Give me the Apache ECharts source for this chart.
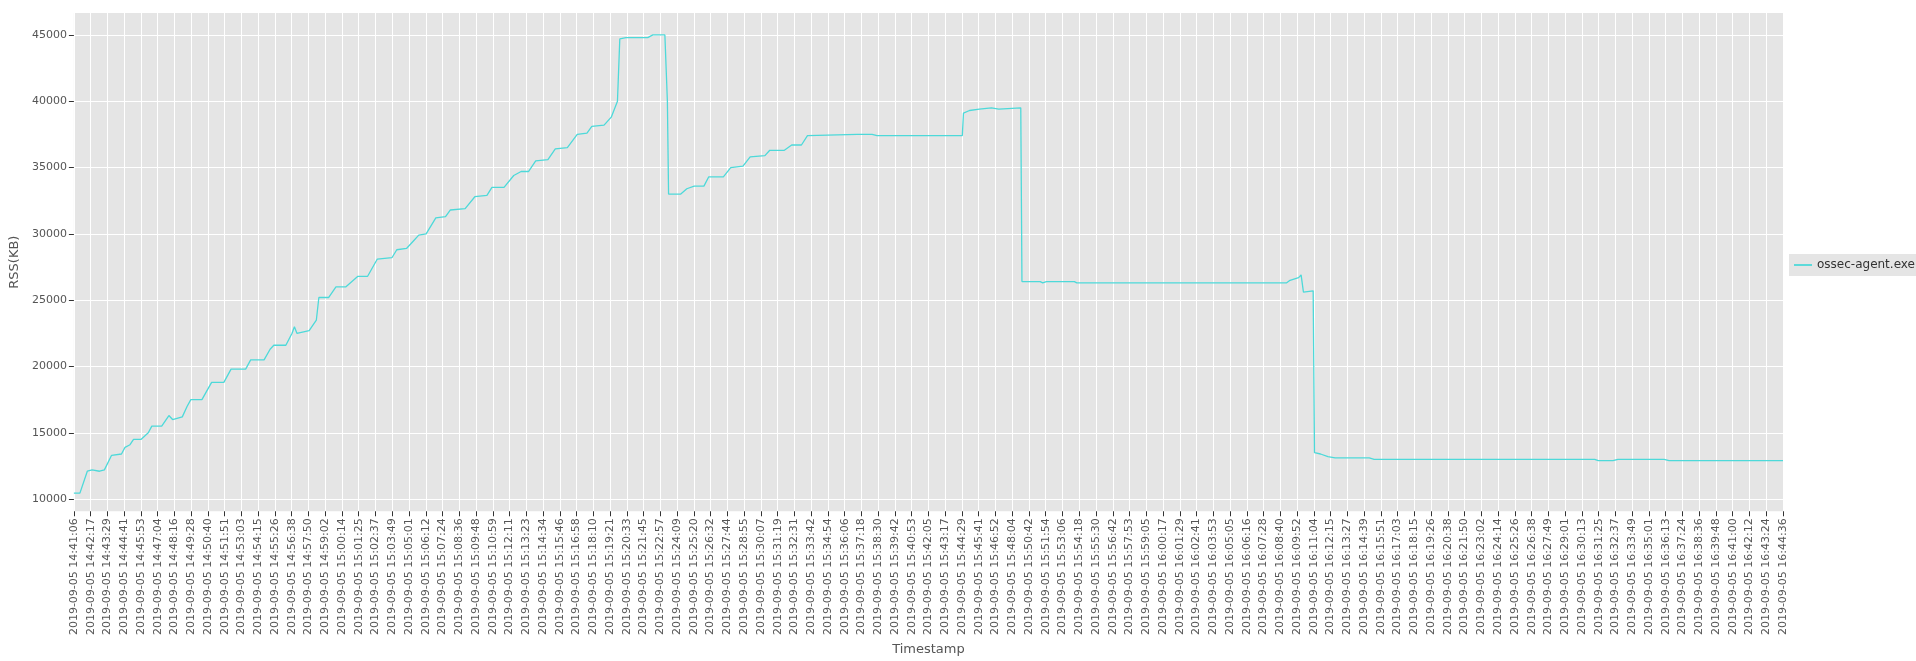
<!DOCTYPE html>
<html><head><meta charset="utf-8">
<script src="https://cdn.jsdelivr.net/npm/echarts@6/dist/echarts.min.js"></script>
<style>html,body{margin:0;padding:0;background:#fff}#c{width:1916px;height:661px}</style>
</head><body><div id="c"></div>
<script>
const tickLabels = ["14:41:06","14:42:17","14:43:29","14:44:41","14:45:53","14:47:04","14:48:16","14:49:28","14:50:40","14:51:51","14:53:03","14:54:15","14:55:26","14:56:38","14:57:50","14:59:02",
"15:00:14","15:01:25","15:02:37","15:03:49","15:05:01","15:06:12","15:07:24","15:08:36","15:09:48","15:10:59","15:12:11","15:13:23","15:14:34","15:15:46","15:16:58","15:18:10","15:19:21","15:20:33","15:21:45","15:22:57","15:24:09","15:25:20","15:26:32","15:27:44","15:28:55","15:30:07","15:31:19","15:32:31","15:33:42","15:34:54","15:36:06","15:37:18","15:38:30","15:39:42","15:40:53","15:42:05","15:43:17","15:44:29","15:45:41","15:46:52","15:48:04","15:50:42","15:51:54","15:53:06","15:54:18","15:55:30","15:56:42","15:57:53","15:59:05",
"16:00:17","16:01:29","16:02:41","16:03:53","16:05:05","16:06:16","16:07:28","16:08:40","16:09:52","16:11:04","16:12:15","16:13:27","16:14:39","16:15:51","16:17:03","16:18:15","16:19:26","16:20:38","16:21:50","16:23:02","16:24:14","16:25:26","16:26:38","16:27:49","16:29:01","16:30:13","16:31:25","16:32:37","16:33:49","16:35:01","16:36:13","16:37:24","16:38:36","16:39:48","16:41:00","16:42:12","16:43:24","16:44:36"].map(t=>"2019-09-05 "+t);
// x positions in tick-index units
const xPos = [
0,0.36,0.80,1.09,1.53,1.82,2.25,2.84,3.05,3.35,
3.56,4.00,4.44,4.65,5.24,5.67,5.89,6.47,6.76,6.98,
7.64,8.22,8.95,9.38,10.25,10.55,11.35,11.71,11.93,12.65,
13.02,13.16,13.31,14.04,14.47,14.62,15.20,15.64,16.22,16.95,
17.53,18.11,18.98,19.27,19.85,20.29,20.58,21.02,21.60,22.18,
22.47,23.35,23.93,24.65,24.95,25.67,26.25,26.69,27.13,27.56,
28.29,28.73,29.45,30.04,30.62,30.91,31.64,32.07,32.44,32.58,
32.95,34.25,34.55,35.27,35.42,35.49,36.22,36.58,37.02,37.60,
37.89,38.76,39.20,39.93,40.36,41.24,41.53,42.40,42.84,43.42,
43.78,46.76,47.64,47.93,53.02,53.09,53.45,54.04,54.76,55.20,
56.51,56.58,57.67,57.82,58.04,59.71,59.85,72.36,72.58,73.09,
73.24,73.38,73.96,74.04,74.40,74.84,75.27,77.31,77.60,90.76,
90.98,91.85,92.15,94.91,95.20,102];
// RSS values in KB
const rssKB = [
10450,10450,12100,12200,12100,12200,13300,13400,13900,14100,
14500,14500,15000,15500,15500,16300,16000,16200,17000,17500,
17500,18800,18800,19800,19800,20500,20500,21300,21600,21600,
22500,23000,22500,22700,23500,25200,25200,26000,26000,26800,
26800,28100,28200,28800,28900,29500,29900,30000,31200,31300,
31800,31900,32800,32900,33500,33500,34400,34700,34700,35500,
35600,36400,36500,37500,37600,38100,38200,38800,40000,44700,
44800,44800,45000,45000,40000,33000,33000,33400,33600,33600,
34300,34300,35000,35100,35800,35900,36300,36300,36700,36700,
37400,37500,37500,37400,37400,39100,39300,39400,39500,39400,
39500,26400,26400,26300,26400,26400,26300,26300,26500,26700,
26900,25600,25700,13500,13400,13200,13100,13100,13000,13000,
12900,12900,13000,13000,12900,12900];
const yTicks = [10000,15000,20000,25000,30000,35000,40000,45000];
const seriesName = "ossec-agent.exe";
const data = xPos.map((x,i)=>[x,rssKB[i]]);
const chart = echarts.init(document.getElementById('c'));
chart.setOption({
  animation:false,
  grid:{left:70,right:133,top:13,bottom:148,show:true,backgroundColor:'#e5e5e5',borderWidth:0},
  legend:{data:[{name:seriesName,icon:'path://M0,0H20V2H0Z'}],orient:'vertical',left:1789,top:254,backgroundColor:'#e5e5e5',padding:[5,5,5,5],itemWidth:18,itemHeight:2,textStyle:{color:'#333',fontSize:12,fontFamily:'DejaVu Sans'}},
  xAxis:{type:'value',min:0,max:tickLabels.length-1,interval:1,name:'Timestamp',nameLocation:'middle',nameGap:130,
    nameTextStyle:{color:'#555',fontSize:13,fontFamily:'DejaVu Sans'},
    axisLine:{show:false},axisTick:{show:true,length:5,lineStyle:{color:'#333'}},
    axisLabel:{rotate:90,fontSize:11,color:'#555',fontFamily:'DejaVu Sans',margin:7,formatter:v=>tickLabels[Math.round(v)]||''},
    splitLine:{show:true,lineStyle:{color:'#fff',width:1}}},
  yAxis:{type:'value',min:9081,max:46653,name:'RSS(KB)',nameLocation:'middle',nameGap:52,
    nameTextStyle:{color:'#555',fontSize:13,fontFamily:'DejaVu Sans'},
    axisLine:{show:false},axisTick:{show:true,length:5,lineStyle:{color:'#333'},customValues:yTicks},
    axisLabel:{fontSize:11,color:'#555',fontFamily:'DejaVu Sans',margin:7,customValues:yTicks,formatter:v=>String(v)},
    splitLine:{show:true,lineStyle:{color:'#fff',width:1.2}}},
  series:[{name:seriesName,type:'line',data:data,showSymbol:false,symbol:'none',lineStyle:{color:'#4dd9d9',width:1.3},itemStyle:{color:'#4dd9d9'}}]
});
</script></body></html>
